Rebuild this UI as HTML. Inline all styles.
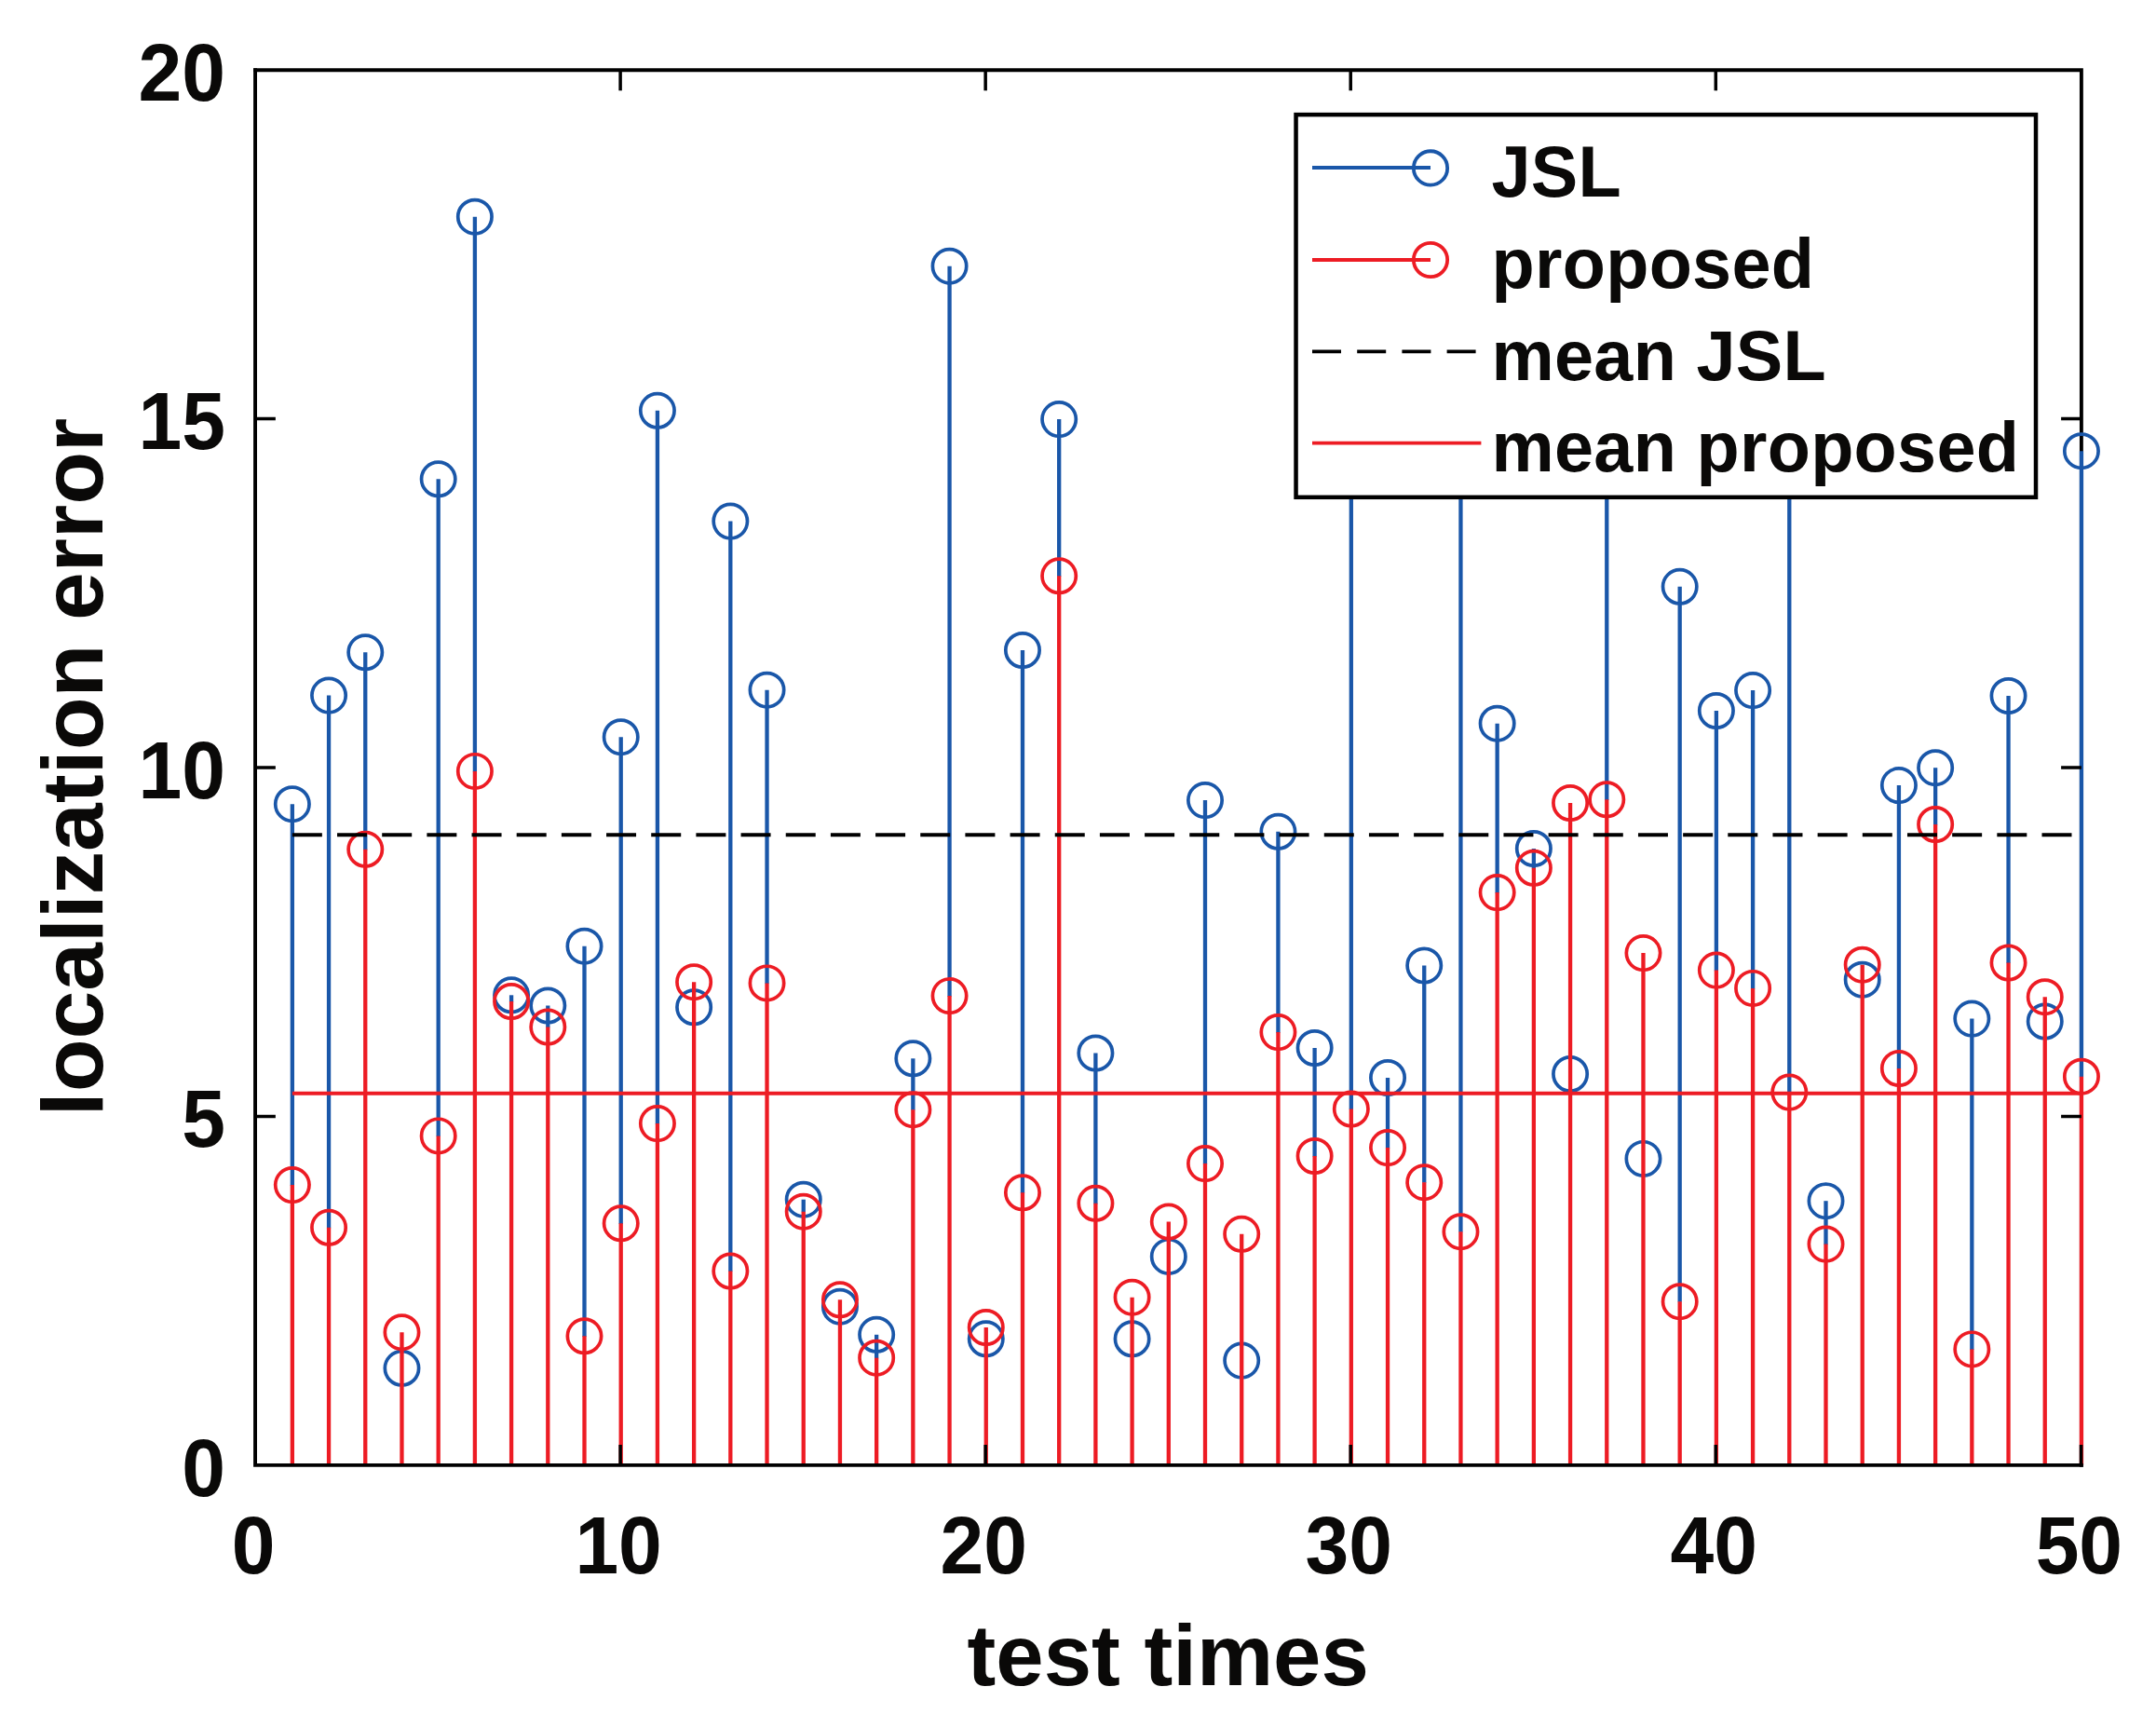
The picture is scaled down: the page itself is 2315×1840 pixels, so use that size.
<!DOCTYPE html>
<html lang="en">
<head>
<meta charset="utf-8">
<title>localization error vs test times</title>
<style>
html,body{margin:0;padding:0;background:#fff;}
svg{display:block;}
text{font-family:"Liberation Sans",Arial,Helvetica,sans-serif;font-weight:bold;fill:#0a0908;}
.tk{font-size:84px;}
.lb{font-size:93px;}
.lg{font-size:75.6px;letter-spacing:0.3px;}
</style>
</head>
<body>
<svg width="2315" height="1840" viewBox="0 0 2315 1840">
<rect x="0" y="0" width="2315" height="1840" fill="#fff"/>
<g stroke="#000" stroke-width="3.9" fill="none" stroke-linecap="square">
<path d="M274.05 75.20 H2234.90 V1572.90"/>
</g>
<g stroke="#1a57a9" stroke-width="4.30" fill="none">
<path d="M313.86 1272.70 V863.20"/>
<circle cx="313.86" cy="863.20" r="18.15" stroke-width="3.70"/>
<path d="M353.06 1318.40 V746.60"/>
<circle cx="353.06" cy="746.60" r="18.15" stroke-width="3.70"/>
<path d="M392.27 912.40 V700.30"/>
<circle cx="392.27" cy="700.30" r="18.15" stroke-width="3.70"/>
<circle cx="431.47" cy="1468.80" r="18.15" stroke-width="3.70"/>
<path d="M470.68 1220.00 V514.30"/>
<circle cx="470.68" cy="514.30" r="18.15" stroke-width="3.70"/>
<path d="M509.89 828.50 V232.70"/>
<circle cx="509.89" cy="232.70" r="18.15" stroke-width="3.70"/>
<path d="M549.09 1075.60 V1068.30"/>
<circle cx="549.09" cy="1068.30" r="18.15" stroke-width="3.70"/>
<path d="M588.30 1103.10 V1079.50"/>
<circle cx="588.30" cy="1079.50" r="18.15" stroke-width="3.70"/>
<path d="M627.50 1434.90 V1015.70"/>
<circle cx="627.50" cy="1015.70" r="18.15" stroke-width="3.70"/>
<path d="M666.71 1313.90 V791.20"/>
<circle cx="666.71" cy="791.20" r="18.15" stroke-width="3.70"/>
<path d="M705.92 1206.70 V440.80"/>
<circle cx="705.92" cy="440.80" r="18.15" stroke-width="3.70"/>
<circle cx="745.12" cy="1081.30" r="18.15" stroke-width="3.70"/>
<path d="M784.33 1365.10 V559.60"/>
<circle cx="784.33" cy="559.60" r="18.15" stroke-width="3.70"/>
<path d="M823.53 1056.00 V740.70"/>
<circle cx="823.53" cy="740.70" r="18.15" stroke-width="3.70"/>
<path d="M862.74 1301.30 V1287.70"/>
<circle cx="862.74" cy="1287.70" r="18.15" stroke-width="3.70"/>
<circle cx="901.95" cy="1402.70" r="18.15" stroke-width="3.70"/>
<path d="M941.15 1458.30 V1432.80"/>
<circle cx="941.15" cy="1432.80" r="18.15" stroke-width="3.70"/>
<path d="M980.36 1191.80 V1136.30"/>
<circle cx="980.36" cy="1136.30" r="18.15" stroke-width="3.70"/>
<path d="M1019.56 1069.70 V285.70"/>
<circle cx="1019.56" cy="285.70" r="18.15" stroke-width="3.70"/>
<circle cx="1058.77" cy="1437.30" r="18.15" stroke-width="3.70"/>
<path d="M1097.98 1280.90 V698.00"/>
<circle cx="1097.98" cy="698.00" r="18.15" stroke-width="3.70"/>
<path d="M1137.18 618.90 V450.10"/>
<circle cx="1137.18" cy="450.10" r="18.15" stroke-width="3.70"/>
<path d="M1176.39 1292.40 V1130.50"/>
<circle cx="1176.39" cy="1130.50" r="18.15" stroke-width="3.70"/>
<circle cx="1215.59" cy="1437.30" r="18.15" stroke-width="3.70"/>
<circle cx="1254.80" cy="1348.90" r="18.15" stroke-width="3.70"/>
<path d="M1294.01 1249.70 V859.10"/>
<circle cx="1294.01" cy="859.10" r="18.15" stroke-width="3.70"/>
<circle cx="1333.21" cy="1460.60" r="18.15" stroke-width="3.70"/>
<path d="M1372.42 1108.70 V892.80"/>
<circle cx="1372.42" cy="892.80" r="18.15" stroke-width="3.70"/>
<path d="M1411.62 1241.60 V1125.00"/>
<circle cx="1411.62" cy="1125.00" r="18.15" stroke-width="3.70"/>
<path d="M1450.83 1191.10 V300.00"/>
<path d="M1490.04 1232.70 V1157.00"/>
<circle cx="1490.04" cy="1157.00" r="18.15" stroke-width="3.70"/>
<path d="M1529.24 1269.80 V1036.50"/>
<circle cx="1529.24" cy="1036.50" r="18.15" stroke-width="3.70"/>
<path d="M1568.45 1322.80 V300.00"/>
<path d="M1607.65 958.70 V776.70"/>
<circle cx="1607.65" cy="776.70" r="18.15" stroke-width="3.70"/>
<path d="M1646.86 932.40 V911.00"/>
<circle cx="1646.86" cy="911.00" r="18.15" stroke-width="3.70"/>
<circle cx="1686.07" cy="1153.00" r="18.15" stroke-width="3.70"/>
<path d="M1725.27 858.90 V300.00"/>
<circle cx="1764.48" cy="1243.90" r="18.15" stroke-width="3.70"/>
<path d="M1803.68 1397.80 V629.80"/>
<circle cx="1803.68" cy="629.80" r="18.15" stroke-width="3.70"/>
<path d="M1842.89 1042.20 V763.00"/>
<circle cx="1842.89" cy="763.00" r="18.15" stroke-width="3.70"/>
<path d="M1882.10 1061.50 V741.10"/>
<circle cx="1882.10" cy="741.10" r="18.15" stroke-width="3.70"/>
<path d="M1921.30 1173.20 V300.00"/>
<path d="M1960.51 1336.20 V1289.20"/>
<circle cx="1960.51" cy="1289.20" r="18.15" stroke-width="3.70"/>
<circle cx="1999.71" cy="1051.70" r="18.15" stroke-width="3.70"/>
<path d="M2038.92 1147.60 V843.10"/>
<circle cx="2038.92" cy="843.10" r="18.15" stroke-width="3.70"/>
<path d="M2078.13 885.60 V824.20"/>
<circle cx="2078.13" cy="824.20" r="18.15" stroke-width="3.70"/>
<path d="M2117.33 1449.00 V1093.60"/>
<circle cx="2117.33" cy="1093.60" r="18.15" stroke-width="3.70"/>
<path d="M2156.54 1034.10 V747.00"/>
<circle cx="2156.54" cy="747.00" r="18.15" stroke-width="3.70"/>
<circle cx="2195.74" cy="1096.50" r="18.15" stroke-width="3.70"/>
<path d="M2234.95 1156.30 V484.20"/>
<circle cx="2234.95" cy="484.20" r="18.15" stroke-width="3.70"/>
</g>
<g stroke="#ed1c24" stroke-width="4.30" fill="none">
<path d="M313.86 1572.90 V1272.10"/>
<circle cx="313.86" cy="1272.10" r="18.15" stroke-width="3.70"/>
<path d="M353.06 1572.90 V1317.80"/>
<circle cx="353.06" cy="1317.80" r="18.15" stroke-width="3.70"/>
<path d="M392.27 1572.90 V911.80"/>
<circle cx="392.27" cy="911.80" r="18.15" stroke-width="3.70"/>
<path d="M431.47 1572.90 V1430.20"/>
<circle cx="431.47" cy="1430.20" r="18.15" stroke-width="3.70"/>
<path d="M470.68 1572.90 V1219.40"/>
<circle cx="470.68" cy="1219.40" r="18.15" stroke-width="3.70"/>
<path d="M509.89 1572.90 V827.90"/>
<circle cx="509.89" cy="827.90" r="18.15" stroke-width="3.70"/>
<path d="M549.09 1572.90 V1075.00"/>
<circle cx="549.09" cy="1075.00" r="18.15" stroke-width="3.70"/>
<path d="M588.30 1572.90 V1102.50"/>
<circle cx="588.30" cy="1102.50" r="18.15" stroke-width="3.70"/>
<path d="M627.50 1572.90 V1434.30"/>
<circle cx="627.50" cy="1434.30" r="18.15" stroke-width="3.70"/>
<path d="M666.71 1572.90 V1313.30"/>
<circle cx="666.71" cy="1313.30" r="18.15" stroke-width="3.70"/>
<path d="M705.92 1572.90 V1206.10"/>
<circle cx="705.92" cy="1206.10" r="18.15" stroke-width="3.70"/>
<path d="M745.12 1572.90 V1054.20"/>
<circle cx="745.12" cy="1054.20" r="18.15" stroke-width="3.70"/>
<path d="M784.33 1572.90 V1364.50"/>
<circle cx="784.33" cy="1364.50" r="18.15" stroke-width="3.70"/>
<path d="M823.53 1572.90 V1055.40"/>
<circle cx="823.53" cy="1055.40" r="18.15" stroke-width="3.70"/>
<path d="M862.74 1572.90 V1300.70"/>
<circle cx="862.74" cy="1300.70" r="18.15" stroke-width="3.70"/>
<path d="M901.95 1572.90 V1395.30"/>
<circle cx="901.95" cy="1395.30" r="18.15" stroke-width="3.70"/>
<path d="M941.15 1572.90 V1457.70"/>
<circle cx="941.15" cy="1457.70" r="18.15" stroke-width="3.70"/>
<path d="M980.36 1572.90 V1191.20"/>
<circle cx="980.36" cy="1191.20" r="18.15" stroke-width="3.70"/>
<path d="M1019.56 1572.90 V1069.10"/>
<circle cx="1019.56" cy="1069.10" r="18.15" stroke-width="3.70"/>
<path d="M1058.77 1572.90 V1425.00"/>
<circle cx="1058.77" cy="1425.00" r="18.15" stroke-width="3.70"/>
<path d="M1097.98 1572.90 V1280.30"/>
<circle cx="1097.98" cy="1280.30" r="18.15" stroke-width="3.70"/>
<path d="M1137.18 1572.90 V618.30"/>
<circle cx="1137.18" cy="618.30" r="18.15" stroke-width="3.70"/>
<path d="M1176.39 1572.90 V1291.80"/>
<circle cx="1176.39" cy="1291.80" r="18.15" stroke-width="3.70"/>
<path d="M1215.59 1572.90 V1392.70"/>
<circle cx="1215.59" cy="1392.70" r="18.15" stroke-width="3.70"/>
<path d="M1254.80 1572.90 V1311.50"/>
<circle cx="1254.80" cy="1311.50" r="18.15" stroke-width="3.70"/>
<path d="M1294.01 1572.90 V1249.10"/>
<circle cx="1294.01" cy="1249.10" r="18.15" stroke-width="3.70"/>
<path d="M1333.21 1572.90 V1324.80"/>
<circle cx="1333.21" cy="1324.80" r="18.15" stroke-width="3.70"/>
<path d="M1372.42 1572.90 V1108.10"/>
<circle cx="1372.42" cy="1108.10" r="18.15" stroke-width="3.70"/>
<path d="M1411.62 1572.90 V1241.00"/>
<circle cx="1411.62" cy="1241.00" r="18.15" stroke-width="3.70"/>
<path d="M1450.83 1572.90 V1190.50"/>
<circle cx="1450.83" cy="1190.50" r="18.15" stroke-width="3.70"/>
<path d="M1490.04 1572.90 V1232.10"/>
<circle cx="1490.04" cy="1232.10" r="18.15" stroke-width="3.70"/>
<path d="M1529.24 1572.90 V1269.20"/>
<circle cx="1529.24" cy="1269.20" r="18.15" stroke-width="3.70"/>
<path d="M1568.45 1572.90 V1322.20"/>
<circle cx="1568.45" cy="1322.20" r="18.15" stroke-width="3.70"/>
<path d="M1607.65 1572.90 V958.10"/>
<circle cx="1607.65" cy="958.10" r="18.15" stroke-width="3.70"/>
<path d="M1646.86 1572.90 V931.80"/>
<circle cx="1646.86" cy="931.80" r="18.15" stroke-width="3.70"/>
<path d="M1686.07 1572.90 V862.00"/>
<circle cx="1686.07" cy="862.00" r="18.15" stroke-width="3.70"/>
<path d="M1725.27 1572.90 V858.30"/>
<circle cx="1725.27" cy="858.30" r="18.15" stroke-width="3.70"/>
<path d="M1764.48 1572.90 V1023.10"/>
<circle cx="1764.48" cy="1023.10" r="18.15" stroke-width="3.70"/>
<path d="M1803.68 1572.90 V1397.20"/>
<circle cx="1803.68" cy="1397.20" r="18.15" stroke-width="3.70"/>
<path d="M1842.89 1572.90 V1041.60"/>
<circle cx="1842.89" cy="1041.60" r="18.15" stroke-width="3.70"/>
<path d="M1882.10 1572.90 V1060.90"/>
<circle cx="1882.10" cy="1060.90" r="18.15" stroke-width="3.70"/>
<path d="M1921.30 1572.90 V1172.60"/>
<circle cx="1921.30" cy="1172.60" r="18.15" stroke-width="3.70"/>
<path d="M1960.51 1572.90 V1335.60"/>
<circle cx="1960.51" cy="1335.60" r="18.15" stroke-width="3.70"/>
<path d="M1999.71 1572.90 V1035.70"/>
<circle cx="1999.71" cy="1035.70" r="18.15" stroke-width="3.70"/>
<path d="M2038.92 1572.90 V1147.00"/>
<circle cx="2038.92" cy="1147.00" r="18.15" stroke-width="3.70"/>
<path d="M2078.13 1572.90 V885.00"/>
<circle cx="2078.13" cy="885.00" r="18.15" stroke-width="3.70"/>
<path d="M2117.33 1572.90 V1448.40"/>
<circle cx="2117.33" cy="1448.40" r="18.15" stroke-width="3.70"/>
<path d="M2156.54 1572.90 V1033.50"/>
<circle cx="2156.54" cy="1033.50" r="18.15" stroke-width="3.70"/>
<path d="M2195.74 1572.90 V1070.20"/>
<circle cx="2195.74" cy="1070.20" r="18.15" stroke-width="3.70"/>
<path d="M2234.95 1572.90 V1155.70"/>
<circle cx="2234.95" cy="1155.70" r="18.15" stroke-width="3.70"/>
</g>
<path d="M313.86 896.2 H2234.95" stroke="#000" stroke-width="4.1" stroke-dasharray="32 16.17" fill="none"/>
<path d="M313.86 1173.8 H2234.95" stroke="#ed1c24" stroke-width="4.1" fill="none"/>
<g stroke="#000" fill="none">
<path d="M274.05 75.20 V1572.90 H2234.90" stroke-width="3.9" stroke-linecap="square"/>
<path d="M666.11 1572.90 v-22.00 M666.11 75.20 v22.00 M1058.17 1572.90 v-22.00 M1058.17 75.20 v22.00 M1450.23 1572.90 v-22.00 M1450.23 75.20 v22.00 M1842.29 1572.90 v-22.00 M1842.29 75.20 v22.00 M2234.55 1572.90 v-22.00 M274.05 1198.48 h21.80 M2234.90 1198.48 h-21.80 M274.05 824.05 h21.80 M2234.90 824.05 h-21.80 M274.05 449.62 h21.80 M2234.90 449.62 h-21.80" stroke-width="3.5"/>
</g>
<rect x="1391.55" y="123.1" width="794.45" height="410.70" fill="#fff" stroke="#000" stroke-width="4.5"/>
<g fill="none" stroke-width="3.8">
<path d="M1409 180 H1536" stroke="#1a57a9"/><circle cx="1536" cy="180.4" r="18.15" stroke="#1a57a9"/>
<path d="M1409 279 H1536" stroke="#ed1c24"/><circle cx="1536" cy="279" r="18.15" stroke="#ed1c24"/>
<path d="M1409 377.4 H1590.4" stroke="#000" stroke-dasharray="31 17.2"/>
<path d="M1409 475.7 H1590.4" stroke="#ed1c24"/>
</g>
<text class="lg" transform="translate(1601.50 211.20) scale(1 1.030)">JSL</text>
<text class="lg" x="1601.50" y="308.6">proposed</text>
<text class="lg" x="1601.50" y="407.5">mean JSL</text>
<text class="lg" x="1601.50" y="506">mean proposed</text>
<text class="tk" text-anchor="middle" transform="translate(272.05 1688.60) scale(1 1.030)">0</text>
<text class="tk" text-anchor="middle" transform="translate(664.11 1688.60) scale(1 1.030)">10</text>
<text class="tk" text-anchor="middle" transform="translate(1056.17 1688.60) scale(1 1.030)">20</text>
<text class="tk" text-anchor="middle" transform="translate(1448.23 1688.60) scale(1 1.030)">30</text>
<text class="tk" text-anchor="middle" transform="translate(1840.29 1688.60) scale(1 1.030)">40</text>
<text class="tk" text-anchor="middle" transform="translate(2232.35 1688.60) scale(1 1.030)">50</text>
<text class="tk" text-anchor="end" transform="translate(242.00 1605.50) scale(1 1.030)">0</text>
<text class="tk" text-anchor="end" transform="translate(242.00 1231.08) scale(1 1.030)">5</text>
<text class="tk" text-anchor="end" transform="translate(242.00 856.65) scale(1 1.030)">10</text>
<text class="tk" text-anchor="end" transform="translate(242.00 482.23) scale(1 1.030)">15</text>
<text class="tk" text-anchor="end" transform="translate(242.00 107.80) scale(1 1.030)">20</text>
<text class="lb" style="font-size:92.4px" text-anchor="middle" x="1254.2" y="1809">test times</text>
<text class="lb" text-anchor="middle" transform="translate(110 823.5) rotate(-90)">localization error</text>
</svg>
</body>
</html>
